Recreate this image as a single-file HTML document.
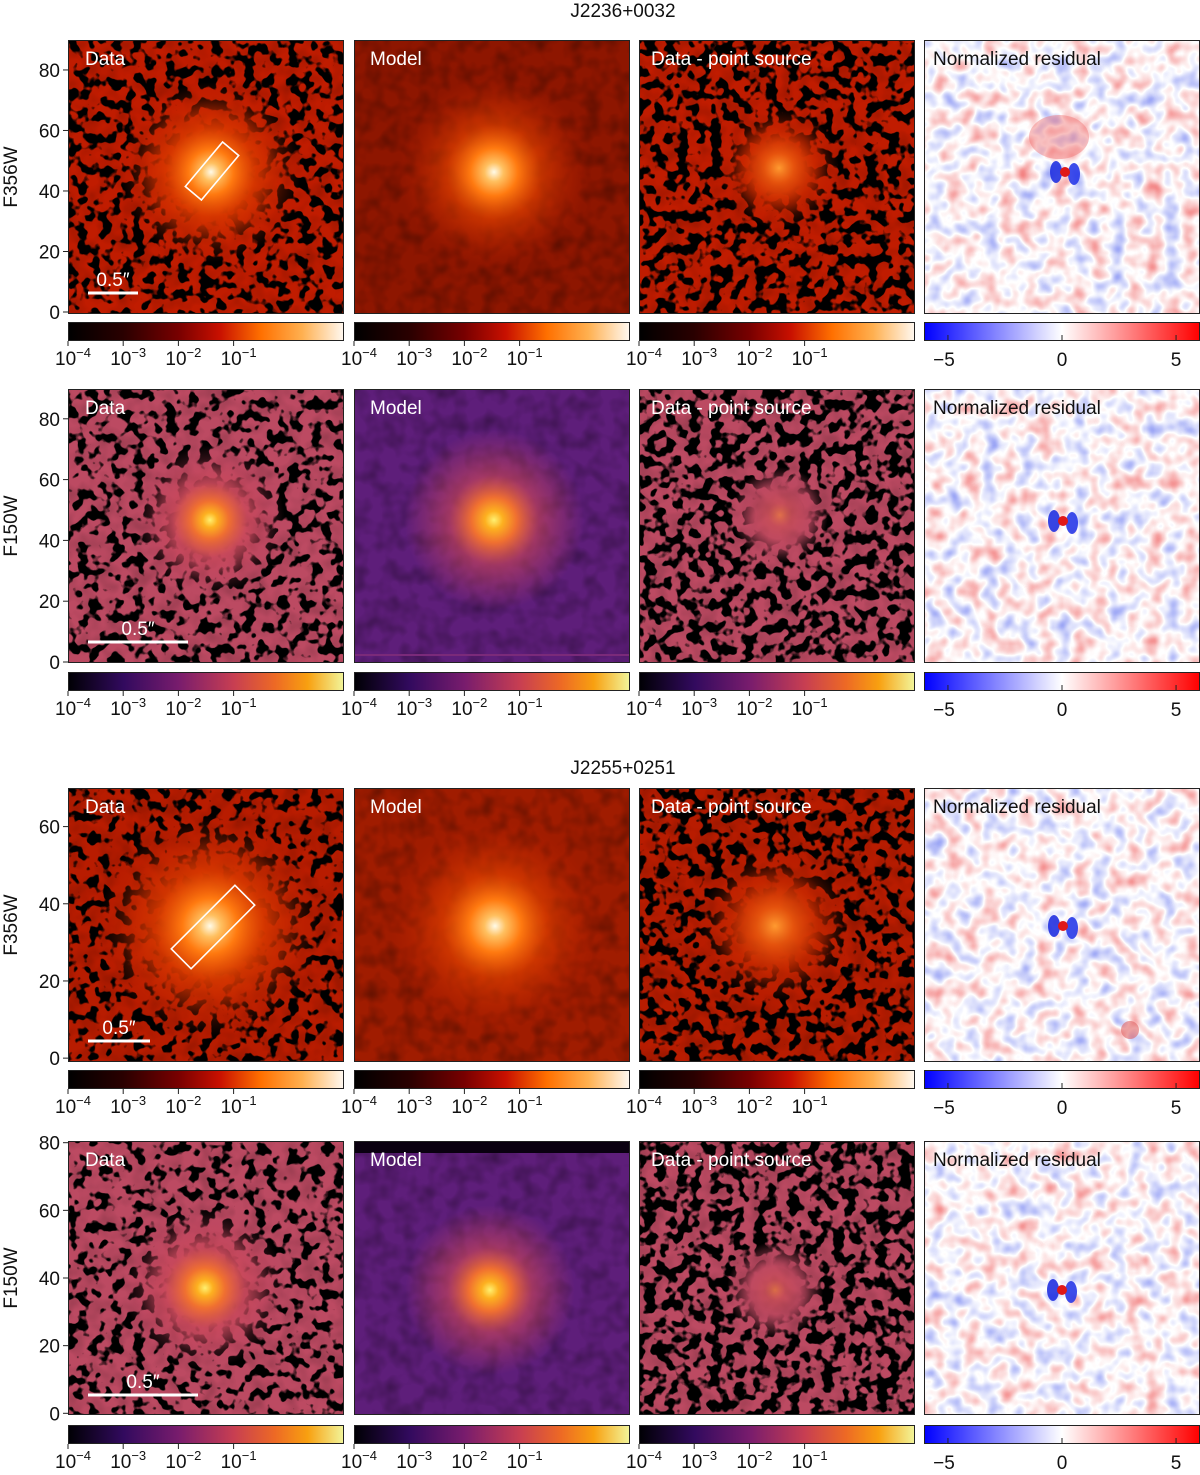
<!DOCTYPE html>
<html><head><meta charset="utf-8"><style>
html,body{margin:0;padding:0;background:#fff}
svg{display:block;font-family:"Liberation Sans",Arial,sans-serif}
</style></head><body>
<svg id="fig" width="1200" height="1475" viewBox="0 0 1200 1475" xmlns="http://www.w3.org/2000/svg">
<defs id="defs">
 <linearGradient id="cm-heat" x1="0" x2="1" y1="0" y2="0">
  <stop offset="0" stop-color="#000"/><stop offset="0.2" stop-color="#2a0000"/><stop offset="0.4" stop-color="#780000"/>
  <stop offset="0.55" stop-color="#c81000"/><stop offset="0.7" stop-color="#ff7000"/><stop offset="0.85" stop-color="#ffb050"/><stop offset="1" stop-color="#fff8f0"/>
 </linearGradient>
 <linearGradient id="cm-inferno" x1="0" x2="1" y1="0" y2="0">
  <stop offset="0" stop-color="#000004"/><stop offset="0.2" stop-color="#320a5e"/><stop offset="0.4" stop-color="#781c6d"/>
  <stop offset="0.6" stop-color="#c73e52"/><stop offset="0.75" stop-color="#ed6925"/><stop offset="0.87" stop-color="#f8a010"/><stop offset="1" stop-color="#f2f59a"/>
 </linearGradient>
 <linearGradient id="cm-bwr" x1="0" x2="1" y1="0" y2="0">
  <stop offset="0" stop-color="#0000ff"/><stop offset="0.5" stop-color="#ffffff"/><stop offset="1" stop-color="#ff0000"/>
 </linearGradient>
 <radialGradient id="clearmask"><stop offset="0" stop-color="#000"/><stop offset="0.4" stop-color="#000"/><stop offset="0.8" stop-color="#fff"/><stop offset="1" stop-color="#fff"/></radialGradient>
</defs>
<g id="root"></g>
</svg>
<script>
// ---- data ----
const rowTitles = ["J2236+0032", "J2255+0251"];
const bandLabels = ["F356W", "F150W", "F356W", "F150W"];
const yTicks1 = [0, 20, 40, 60, 80];
const yTicks2 = [0, 20, 40, 60, 80];
const yTicks3 = [0, 20, 40, 60];
const yTicks4 = [0, 20, 40, 60, 80];
const yDomains = [[-0.66, 89.9], [-0.33, 89.8], [-1, 70], [-0.5, 80.5]];
const logTickExps = [-4, -3, -2, -1];
const logDomain = [-4, 1];
const residTicks = [-5, 0, 5];
const residDomain = [-6.05, 6.05];
const panelTitles = ["Data", "Model", "Data - point source", "Normalized residual"];
const scaleBarPx = [50, 100, 62, 110];

const NS = "http://www.w3.org/2000/svg";
const root = document.getElementById('root');
const defs = document.getElementById('defs');
function el(tag, attrs, parent) {
  const e = document.createElementNS(NS, tag);
  for (const k in attrs) e.setAttribute(k, attrs[k]);
  (parent || root).appendChild(e);
  return e;
}
const colX = [68, 354, 639, 924];
const titleOff = [17, 16, 12, 9];
const PW = 276, PH = 274;
const rowY = [40, 389, 788, 1141];
const cbY = [322, 672, 1070, 1425];
const yTickSets = [yTicks1, yTicks2, yTicks3, yTicks4];

function yScale(r, v) {
  const d = yDomains[r];
  return rowY[r] + PH - (v - d[0]) / (d[1] - d[0]) * PH;
}
function logScale(x0, e) { return x0 + (e - logDomain[0]) / (logDomain[1] - logDomain[0]) * PW; }
function resScale(x0, v) { return x0 + (v - residDomain[0]) / (residDomain[1] - residDomain[0]) * PW; }

let fid = 0;
function noiseFilter(freq, seed, matrix, oct) {
  const id = 'f' + (fid++);
  const f = el('filter', {id: id, x: 0, y: 0, width: 1, height: 1, 'color-interpolation-filters': 'sRGB'}, defs);
  el('feTurbulence', {type: 'fractalNoise', baseFrequency: freq, numOctaves: oct || 2, seed: seed}, f);
  el('feColorMatrix', {type: 'matrix', values: matrix}, f);
  return id;
}
function radial(stops) {
  const id = 'g' + (fid++);
  const g = el('radialGradient', {id: id}, defs);
  stops.forEach(s => el('stop', {offset: s[0], 'stop-color': s[1], 'stop-opacity': s[2] === undefined ? 1 : s[2]}, g));
  return id;
}

const heatGlow = [[0,'#fffbe8'],[0.1,'#ffc060'],[0.25,'#ff7a10'],[0.5,'#e04000',0.7],[1,'#c02000',0]];
const heatGlowWeak = [[0,'#ff9a30'],[0.25,'#f06010',0.8],[0.6,'#d03000',0.5],[1,'#c02000',0]];
const infGlow = [[0,'#fff070'],[0.1,'#fdb020'],[0.25,'#f07030'],[0.5,'#d04858',0.6],[1,'#c04060',0]];
const infGlowWeak = [[0,'#f08040',0.7],[0.3,'#d05050',0.5],[1,'#c04060',0]];
const rowCfg = [
  {type:'heat', base:['#c01c00','#8e1600','#c01c00'], bl:[5.9,0,6.1], glow:[heatGlow,heatGlow,heatGlowWeak], gr:[90,95,60], c:[[211,172],[494,172],[779,168]]},
  {type:'inferno', base:['#bc4a62','#5e1e7a','#bc4a62'], bl:[5.8,0,6.2], glow:[infGlow,infGlow,infGlowWeak], gr:[75,90,40], c:[[210,520],[494,520],[780,515]]},
  {type:'heat', base:['#b81c00','#a01c00','#b81c00'], bl:[5.7,0,6.0], glow:[heatGlow,heatGlow,heatGlowWeak], gr:[110,105,75], c:[[210,926],[495,926],[775,926]]},
  {type:'inferno', base:['#bc4a62','#5e1e7a','#bc4a62'], bl:[5.7,0,6.3], glow:[infGlow,infGlow,infGlowWeak], gr:[80,85,35], c:[[205,1288],[490,1290],[775,1290]]}
];
const residCenters = [[1064,172],[1062,521],[1062,926],[1061,1290]];

for (let r = 0; r < 4; r++) {
  const y0 = rowY[r], cfg = rowCfg[r];
  for (let c = 0; c < 4; c++) {
    const x0 = colX[c];
    const g = el('g', {});
    
    
    const clipId = 'clip' + r + c;
    const cp = el('clipPath', {id: clipId}, defs);
    el('rect', {x: x0, y: y0, width: PW, height: PH}, cp);
    const inner = el('g', {'clip-path': 'url(#' + clipId + ')'}, g);
    if (c < 3) {
      el('rect', {x: x0, y: y0, width: PW, height: PH, fill: cfg.base[c]}, inner);
      const tex = noiseFilter(0.06, r*10+c+1, '0 0 0 0 0  0 0 0 0 0  0 0 0 0 0  -1.4 0 0 0 0.85');
      el('rect', {x: x0, y: y0, width: PW, height: PH, filter: 'url(#' + tex + ')', opacity: c === 1 ? 0.45 : 0.25}, inner);
      if (cfg.bl[c] > 0) {
        const bf = noiseFilter(0.09, r*7+c*3+5, '0 0 0 0 0  0 0 0 0 0  0 0 0 0 0  -12 0 0 0 ' + cfg.bl[c]);
        const mid = 'm' + r + c;
        const m = el('mask', {id: mid}, defs);
        el('rect', {x: x0, y: y0, width: PW, height: PH, fill: '#fff'}, m);
        el('circle', {cx: cfg.c[c][0], cy: cfg.c[c][1], r: Math.max(cfg.gr[c], 60), fill: 'url(#clearmask)'}, m);
        el('rect', {x: x0, y: y0, width: PW, height: PH, filter: 'url(#' + bf + ')', mask: 'url(#' + mid + ')'}, inner);
      }
      const gid = radial(cfg.glow[c]);
      el('circle', {cx: cfg.c[c][0], cy: cfg.c[c][1], r: cfg.gr[c], fill: 'url(#' + gid + ')'}, inner);
      if (r === 1 && c === 1) el('line', {x1: x0, x2: x0+PW, y1: y0+PH-8, y2: y0+PH-8, stroke: '#7a2a7a', 'stroke-width': 2}, inner);
      if (r === 3 && c === 1) el('rect', {x: x0, y: y0, width: PW, height: 12, fill: '#0a0010'}, inner);
    } else {
      el('rect', {x: x0, y: y0, width: PW, height: PH, fill: '#fff'}, inner);
      const fr = noiseFilter(0.055, r*5+11, '0 0 0 0 0.95  0 0 0 0 0.5  0 0 0 0 0.5  2.2 0 0 0 -1.08', 2);
      const fb = noiseFilter(0.055, r*5+11, '0 0 0 0 0.5  0 0 0 0 0.55  0 0 0 0 0.95  -2.2 0 0 0 1.05', 2);
      el('rect', {x: x0, y: y0, width: PW, height: PH, filter: 'url(#' + fr + ')'}, inner);
      el('rect', {x: x0, y: y0, width: PW, height: PH, filter: 'url(#' + fb + ')'}, inner);
      const [cx, cy] = residCenters[r];
      if (r === 0) el('ellipse', {cx: cx-5, cy: cy-35, rx: 30, ry: 22, fill: '#f07070', opacity: 0.45}, inner);
      el('ellipse', {cx: cx-8, cy: cy, rx: 6, ry: 11, fill: '#2030e0', opacity: 0.9}, inner);
      el('ellipse', {cx: cx+10, cy: cy+2, rx: 6, ry: 11, fill: '#2838e8', opacity: 0.9}, inner);
      el('circle', {cx: cx+1, cy: cy, r: 5, fill: '#e01818'}, inner);
      if (r === 2) el('circle', {cx: 1130, cy: 1030, r: 9, fill: '#e06060', opacity: 0.6}, inner);
    }
    el('rect', {x: x0+0.5, y: y0+0.5, width: PW-1, height: PH-1, fill: 'none', stroke: '#222', 'stroke-width': 1}, g);
    const t = el('text', {x: x0+titleOff[c], y: y0+25, 'font-size': 19, fill: c < 3 ? '#fff' : '#111'}, g);
    t.textContent = panelTitles[c];
    
    

    const cb = el('g', {});
    
    
    el('rect', {x: x0+0.5, y: cbY[r]+0.5, width: PW-1, height: 18, fill: c < 3 ? (cfg.type === 'heat' ? 'url(#cm-heat)' : 'url(#cm-inferno)') : 'url(#cm-bwr)', stroke: '#222'}, cb);
    if (c < 3) {
      logTickExps.forEach(e => {
        const x = logScale(x0, e);
        el('line', {x1: x, x2: x, y1: cbY[r]+19, y2: cbY[r]+24, stroke: '#222'}, cb);
        const tx = el('text', {x: x + 5, y: cbY[r]+43, 'font-size': 19, fill: '#111', 'text-anchor': 'middle'}, cb);
        const a = el('tspan', {}, tx); a.textContent = '10';
        const b = el('tspan', {dy: -8, 'font-size': 13}, tx); b.textContent = '\u2212' + Math.abs(e);
        
        
      });
    } else {
      residTicks.forEach(v => {
        const x = resScale(x0, v);
        el('line', {x1: x, x2: x, y1: cbY[r]+13, y2: cbY[r]+18, stroke: '#222'}, cb);
        const tx = el('text', {x: x - (v < 0 ? 4 : 0), y: cbY[r]+44, 'font-size': 19, fill: '#111', 'text-anchor': 'middle'}, cb);
        tx.textContent = v < 0 ? '\u2212' + Math.abs(v) : String(v);
        
        
      });
    }
  }
  const ax = el('g', {});
  
  
  yTickSets[r].forEach(v => {
    const y = yScale(r, v);
    el('line', {x1: 63, x2: 68, y1: y, y2: y, stroke: '#222'}, ax);
    const tx = el('text', {x: 60, y: y+7, 'font-size': 19, fill: '#111', 'text-anchor': 'end'}, ax);
    tx.textContent = v;
  });
  const bl = el('text', {x: 17, y: y0 + PH/2, 'font-size': 19, fill: '#111', 'text-anchor': 'middle', transform: 'rotate(-90 17 ' + (y0+PH/2) + ')'}, ax);
  bl.textContent = bandLabels[r];
  const sbY = [293, 642, 1041, 1395][r];
  const sb = el('g', {});
  
  
  el('line', {x1: 88, x2: 88 + scaleBarPx[r], y1: sbY, y2: sbY, stroke: '#fff', 'stroke-width': 3}, sb);
  const st = el('text', {x: 88 + scaleBarPx[r]/2, y: sbY - 7, 'font-size': 19, fill: '#fff', 'text-anchor': 'middle'}, sb);
  st.textContent = '0.5\u2033';
}
[[212,171,58,21,-50],[213,927,90,28,-45]].forEach(s => {
  const rr = el('rect', {x: s[0]-s[2]/2, y: s[1]-s[3]/2, width: s[2], height: s[3], fill: 'none', stroke: '#fff', 'stroke-width': 1.6, transform: 'rotate(' + s[4] + ' ' + s[0] + ' ' + s[1] + ')'});
  
  
});
[[17, 0], [774, 1]].forEach(p => {
  const t = el('text', {x: 623, y: p[0], 'font-size': 19, fill: '#111', 'text-anchor': 'middle'});
  t.textContent = rowTitles[p[1]];
  
  
});
</script>
</body></html>
